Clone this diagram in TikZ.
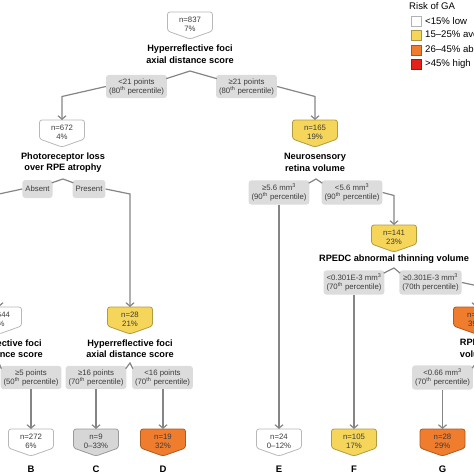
\documentclass[tikz,border=0pt]{standalone}
\usepackage{fontspec}
\setmainfont{Liberation Sans}
\usetikzlibrary{arrows.meta,positioning,calc}

\definecolor{lowrisk}{HTML}{FFFFFF}
\definecolor{avgrisk}{HTML}{F5D65B}
\definecolor{aboverisk}{HTML}{F07C2D}
\definecolor{highrisk}{HTML}{E3221C}
\definecolor{unsure}{HTML}{D6D6D6}
\definecolor{splitgray}{HTML}{DCDCDC}
\definecolor{linegray}{HTML}{858585}
\definecolor{textgray}{HTML}{3C3C3C}

% risk box: name, x, top y, fill, text
\newcommand{\riskbox}[5]{%
  \filldraw[boxedge, draw=#4!72!black, fill=#4] (#2-22.5,#3) -- ++(45,0) -- ++(0,19) -- ++(-22.5,8) -- ++(-22.5,-8) -- cycle;
  \node[boxtext] (#1) at (#2,#3) {#5};
}

\begin{document}
\begin{tikzpicture}[x=1pt, y=-1pt,
    boxedge/.style={rounded corners=2.5pt, line width=0.8pt},
    boxtext/.style={anchor=north, minimum width=45pt, minimum height=25pt, inner sep=0pt, align=center, text=textgray, font=\fontsize{7.8}{9}\selectfont},
    cut/.style={fill=splitgray, rounded corners=3pt, text=textgray, font=\fontsize{7.8}{9}\selectfont, align=center, inner xsep=3pt, inner ysep=3.5pt, minimum height=18pt},
    title/.style={font=\fontsize{9.2}{11.5}\selectfont\bfseries, align=center, inner sep=0pt},
    leaf/.style={font=\fontsize{9.5}{11}\selectfont\bfseries, inner sep=0pt},
    branch/.style={draw=linegray, line width=1.2pt},
    flow/.style={branch, -{Straight Barb[length=3.5pt, width=8pt]}}]
    \useasboundingbox (0,0) rectangle (474,474);
    \clip (0,0) rectangle (474,474);

    % Legend
    \node[anchor=west, inner sep=0pt, font=\fontsize{9.6}{11}\selectfont] (legend) at (409,6) {Risk of GA};
    \foreach \c/\t [count=\i] in {lowrisk/{<15\% low}, avgrisk/{15--25\% average}, aboverisk/{26--45\% above average}, highrisk/{>45\% high}} {
        \filldraw[draw=\c!70!black, line width=0.5pt, fill=\c] (411,{16+14.5*(\i-1)}) rectangle ++(10,10);
        \node[anchor=west, inner sep=0pt, font=\fontsize{9.6}{11}\selectfont] (key\i) at (425,{21+14.5*(\i-1)}) {\t};
    }

    % Root split
    \riskbox{n837}{190}{12}{lowrisk}{n=837\\7\%}
    \node[title] (t837) at (190,54) {Hyperreflective foci\\axial distance score};
    \coordinate (a837) at (190,71);
    \node[cut] (lt21) at (136.5,86.5) {<21 points\\(80\textsuperscript{th} percentile)};
    \node[cut] (ge21) at (246.5,86.5) {≥21 points\\(80\textsuperscript{th} percentile)};
    \draw[branch] ($(lt21.north east)+(-1,4)$) -- (a837) -- ($(ge21.north west)+(1,4)$);

    % Second level
    \riskbox{n672}{62}{120}{lowrisk}{n=672\\4\%}
    \riskbox{n165}{315}{120}{avgrisk}{n=165\\19\%}
    \draw[flow] (lt21.west) -- ($(lt21.west -| n672.north)+(0,10)$) -- (n672.north);
    \draw[flow] (ge21.east) -- ($(ge21.east -| n165.north)+(0,10)$) -- (n165.north);

    \node[title] (t672) at (63,162.5) {Photoreceptor loss\\over RPE atrophy};
    \coordinate (a672) at (63,179);
    \node[cut] (absent) at (37.5,189) {Absent};
    \node[cut] (present) at (89,189) {Present};
    \draw[branch] ($(absent.north east)+(-1,3)$) -- (a672) -- ($(present.north west)+(1,3)$);

    \node[title] (t165) at (315,162.5) {Neurosensory\\retina volume};
    \coordinate (a165) at (316,179);
    \node[cut] (ge56) at (279,192.5) {≥5.6 mm\textsuperscript{3}\\(90\textsuperscript{th} percentile)};
    \node[cut] (lt56) at (352,192.5) {<5.6 mm\textsuperscript{3}\\(90\textsuperscript{th} percentile)};
    \draw[branch] ($(ge56.north east)+(-1,3)$) -- (a165) -- ($(lt56.north west)+(1,3)$);

    % Third level
    \riskbox{n141}{394}{225}{avgrisk}{n=141\\23\%}
    \draw[flow] (lt56.east) -- ($(lt56.east -| n141.north)+(0,3)$) -- (n141.north);
    \node[title] (t141) at (394,259) {RPEDC abnormal thinning volume};
    \coordinate (a141) at (394,268);
    \node[cut] (lt0301) at (354,282.5) {<0.301E-3 mm\textsuperscript{3}\\(70\textsuperscript{th} percentile)};
    \node[cut] (ge0301) at (430.5,282.5) {≥0.301E-3 mm\textsuperscript{3}\\(70th percentile)};
    \draw[branch] ($(lt0301.north east)+(-1,3)$) -- (a141) -- ($(ge0301.north west)+(1,3)$);

    \riskbox{n644}{-1}{307}{lowrisk}{n=644\\3\%}
    \riskbox{n28}{130}{307}{avgrisk}{n=28\\21\%}
    \riskbox{n36}{476}{307}{aboverisk}{n=36\\39\%}
    \draw[flow] (absent.west) -- ($(absent.west -| n644.north)+(0,5)$) -- (n644.north);
    \draw[flow] (present.east) -- ($(present.east -| n28.north)+(0,5)$) -- (n28.north);
    \draw[flow] (ge0301.east) -- ($(ge0301.east -| n36.north)+(0,3)$) -- (n36.north);

    % Last splits
    \node[title] (t644) at (-1,348.5) {Hyperreflective foci\\axial distance score};
    \node[title] (t28) at (130,348.5) {Hyperreflective foci\\axial distance score};
    \node[title] (t36) at (476,348.5) {RPEDC\\volume};
    \coordinate (a644) at (-1,363);
    \coordinate (a28) at (130,363);
    \coordinate (a36) at (476,363);
    \node[cut] (ge5) at (31,377.5) {≥5 points\\(50\textsuperscript{th} percentile)};
    \node[cut] (ge16) at (96,377.5) {≥16 points\\(70\textsuperscript{th} percentile)};
    \node[cut] (lt16) at (162.5,377.5) {<16 points\\(70\textsuperscript{th} percentile)};
    \node[cut] (lt066) at (442.5,377.5) {<0.66 mm\textsuperscript{3}\\(70\textsuperscript{th} percentile)};
    \draw[branch] (a644) -- ($(ge5.north west)+(1,3)$);
    \draw[branch] ($(ge16.north east)+(-1,3)$) -- (a28) -- ($(lt16.north west)+(1,3)$);
    \draw[branch] ($(lt066.north east)+(-1,3)$) -- (a36);

    % Leaves
    \riskbox{leafB}{31}{429}{lowrisk}{n=272\\6\%}
    \riskbox{leafC}{96}{429}{unsure}{n=9\\0--33\%}
    \riskbox{leafD}{163}{429}{aboverisk}{n=19\\32\%}
    \riskbox{leafE}{279}{429}{lowrisk}{n=24\\0--12\%}
    \riskbox{leafF}{354}{429}{avgrisk}{n=105\\17\%}
    \riskbox{leafG}{442.5}{429}{aboverisk}{n=28\\29\%}
    \draw[flow] (ge5.south) -- (leafB.north);
    \draw[flow] (ge16.south) -- (leafC.north);
    \draw[flow] (lt16.south -| leafD.north) -- (leafD.north);
    \draw[flow] (ge56.south) -- (leafE.north);
    \draw[flow] (lt0301.south) -- (leafF.north);
    \draw[flow] (lt066.south) -- (leafG.north);
    \foreach \l/\x in {B/31, C/96, D/163, E/279, F/354, G/442.5} {
        \node[leaf] (name\l) at (\x,469) {\l};
    }
\end{tikzpicture}
\end{document}
